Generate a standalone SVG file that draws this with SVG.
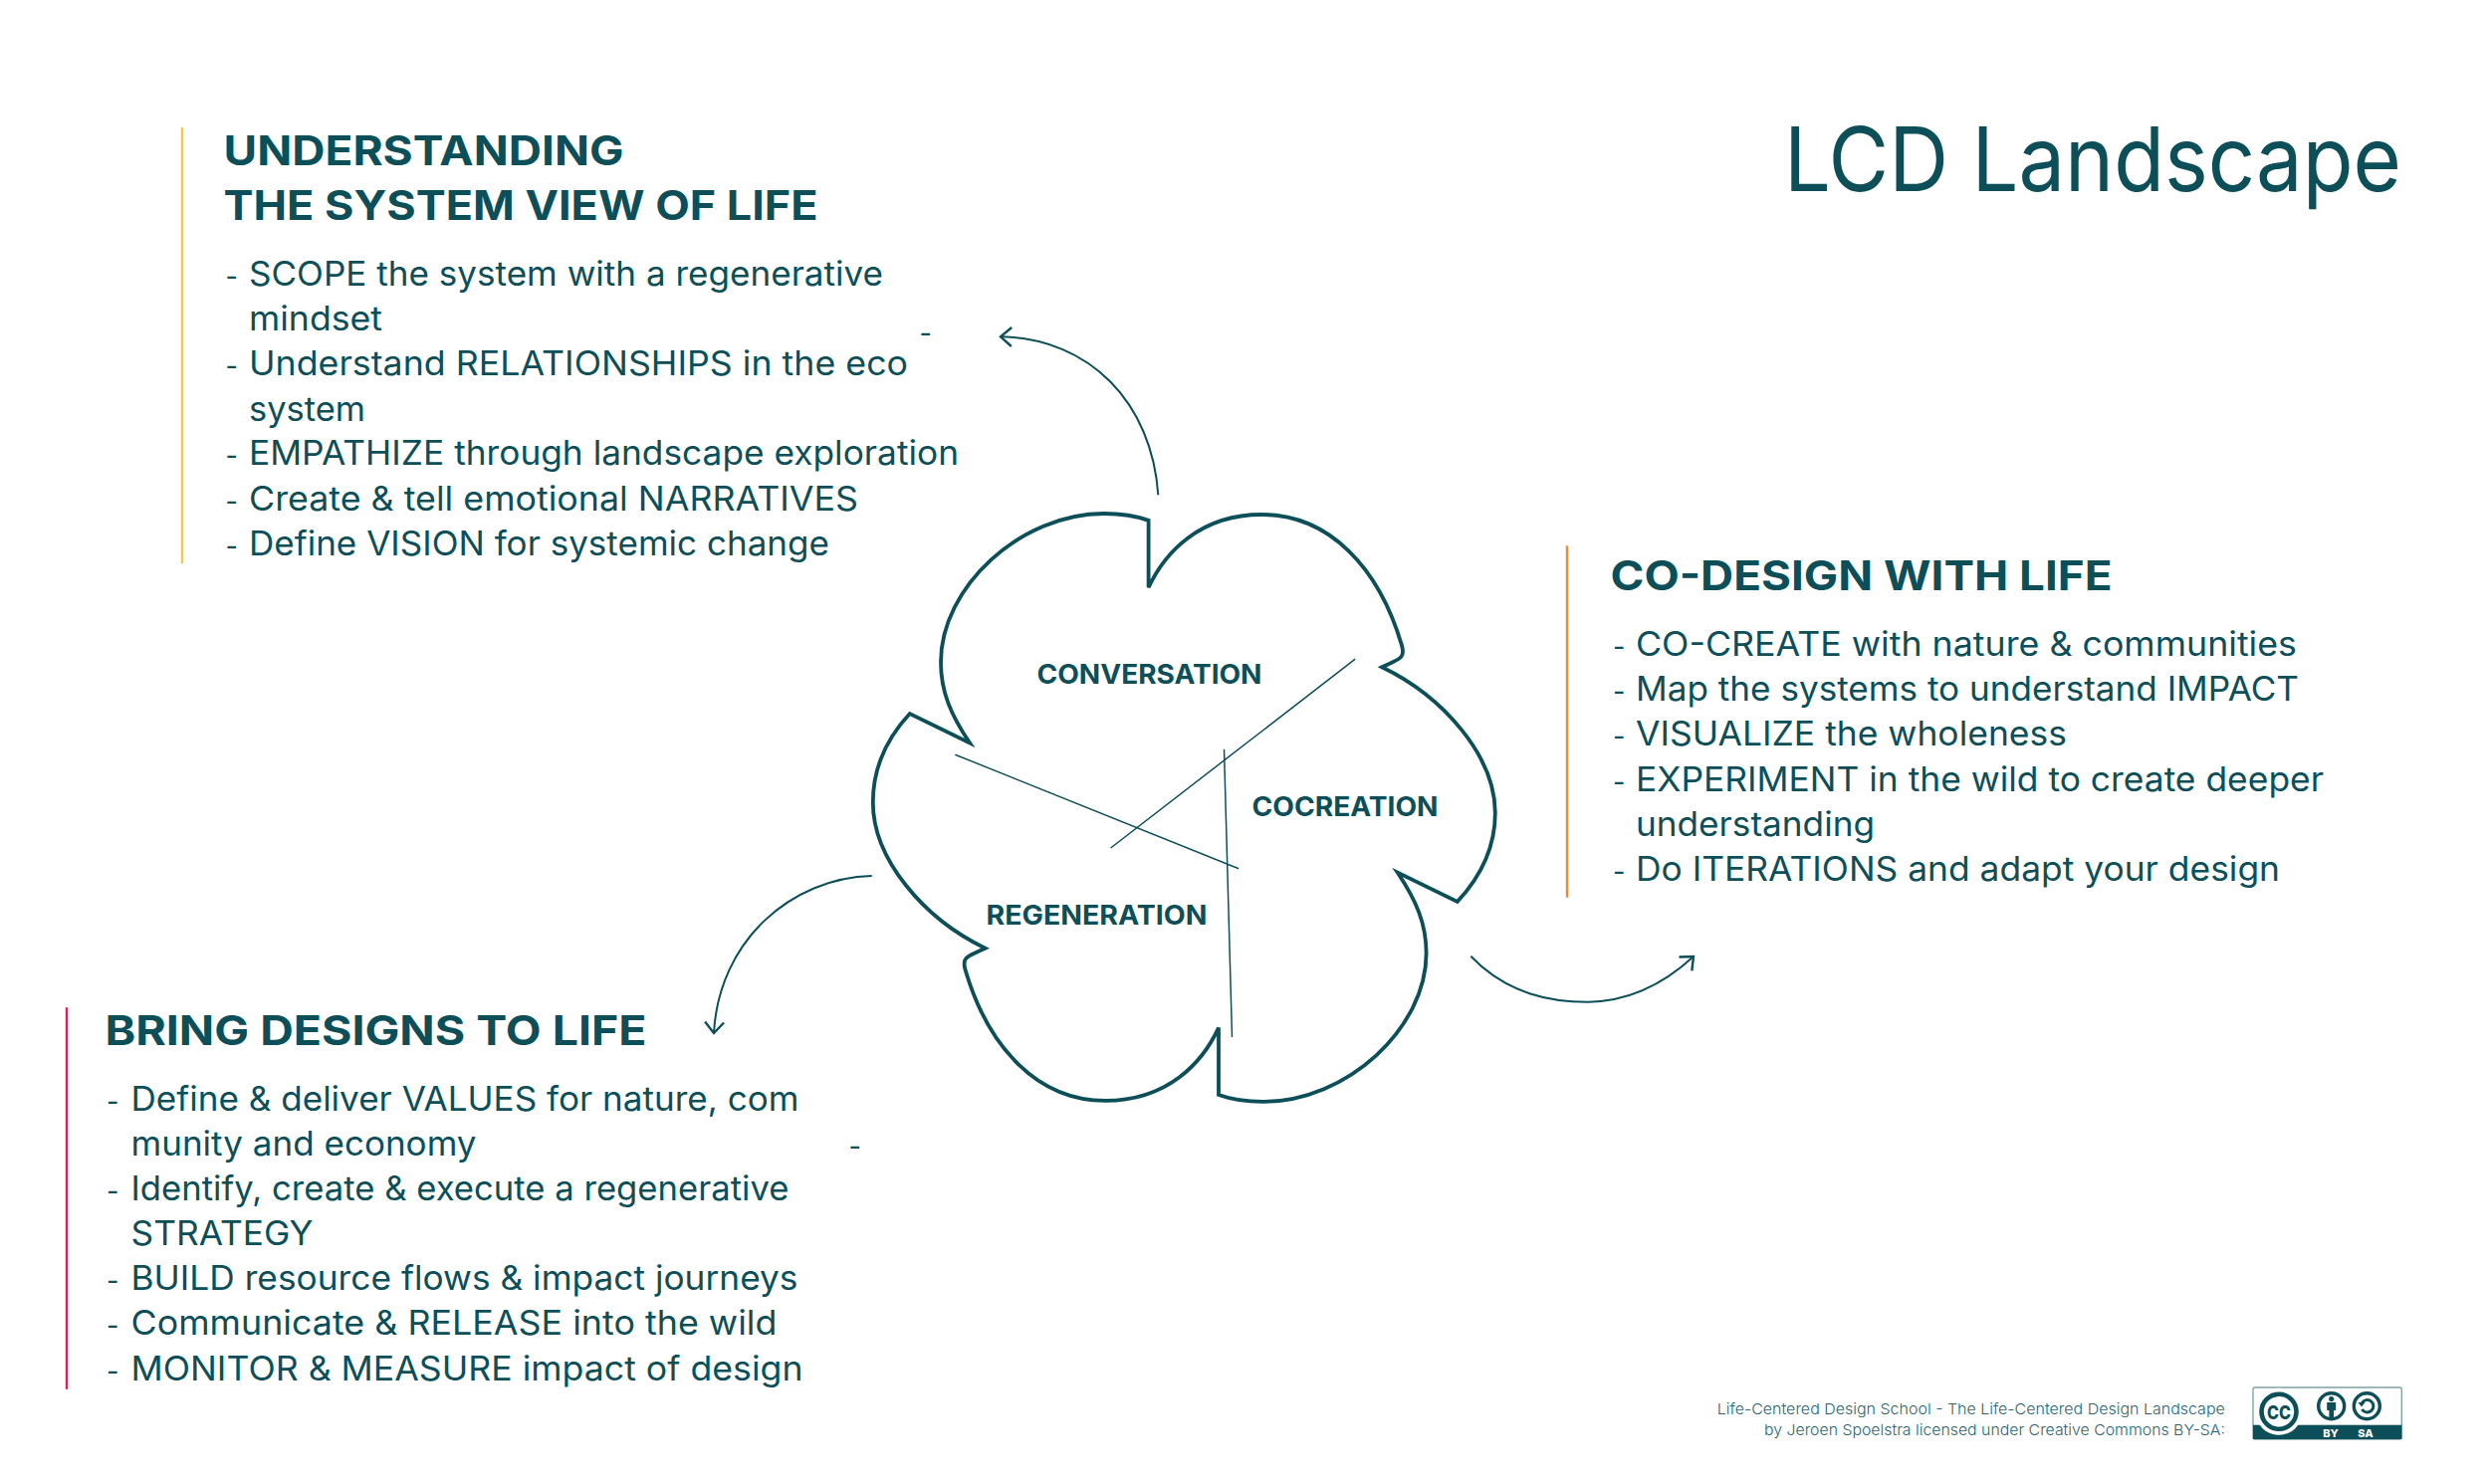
<svg xmlns="http://www.w3.org/2000/svg" width="2500" height="1491" viewBox="0 0 2500 1491">
<style>
text{font-family:"Inter","Noto Sans","Liberation Sans",sans-serif;fill:#0d4f59}
.b{font-size:33.5px;font-weight:400}
.d{font-size:27px;font-weight:400}
.h{font-size:41px;font-weight:700}
.l{font-size:27px;font-weight:700}
.t{font-size:90px;font-weight:400}
.f{font-size:15px;font-weight:300;fill:#2c6570}
.w{font-size:11px;font-weight:800;fill:#fff;text-anchor:middle}
.thin{fill:none;stroke:#0d4f59;stroke-width:1.5}
.arr{fill:none;stroke:#0d4f59;stroke-width:2;marker-end:url(#head)}
.bar{stroke-width:2.4;fill:none}
</style>
<defs>
<marker id="head" markerUnits="userSpaceOnUse" markerWidth="30" markerHeight="30" refX="15" refY="15" orient="auto" viewBox="0 0 30 30"><path d="M4 5.5L15 15L4 24.5" fill="none" stroke="#0d4f59" stroke-width="2.4"/></marker>
</defs>
<rect width="2500" height="1491" fill="#fff"/>
<g id="title"><text class="t" x="1792" y="191.5" textLength="620" lengthAdjust="spacingAndGlyphs">LCD Landscape</text></g>

<g id="node-understanding">
<path class="bar" d="M183 128V566" stroke="#f4c64a"/>
<text class="h" x="224.5" y="166" textLength="402" lengthAdjust="spacingAndGlyphs">UNDERSTANDING</text>
<text class="h" x="224.5" y="221.2" textLength="597" lengthAdjust="spacingAndGlyphs">THE SYSTEM VIEW OF LIFE</text>
<text class="d" x="226.5" y="287">-</text><text class="b" x="250" y="287" textLength="637" lengthAdjust="spacingAndGlyphs">SCOPE the system with a regenerative</text>
<text class="b" x="250" y="332.2" textLength="134" lengthAdjust="spacingAndGlyphs">mindset</text>
<text class="d" x="923.5" y="344">-</text>
<text class="d" x="226.5" y="377.2">-</text><text class="b" x="250" y="377.2" textLength="662" lengthAdjust="spacingAndGlyphs">Understand RELATIONSHIPS in the eco</text>
<text class="b" x="250" y="422.5" textLength="117" lengthAdjust="spacingAndGlyphs">system</text>
<text class="d" x="226.5" y="467.2">-</text><text class="b" x="250" y="467.2" textLength="713" lengthAdjust="spacingAndGlyphs">EMPATHIZE through landscape exploration</text>
<text class="d" x="226.5" y="512.5">-</text><text class="b" x="250" y="512.5" textLength="612" lengthAdjust="spacingAndGlyphs">Create &amp; tell emotional NARRATIVES</text>
<text class="d" x="226.5" y="557.7">-</text><text class="b" x="250" y="557.7" textLength="583" lengthAdjust="spacingAndGlyphs">Define VISION for systemic change</text>
</g>

<g id="node-codesign">
<path class="bar" d="M1574 548.3V901.7" stroke="#ee8a3c"/>
<text class="h" x="1617.5" y="593" textLength="504" lengthAdjust="spacingAndGlyphs">CO-DESIGN WITH LIFE</text>
<text class="d" x="1620" y="659">-</text><text class="b" x="1643" y="659" textLength="664" lengthAdjust="spacingAndGlyphs">CO-CREATE with nature &amp; communities</text>
<text class="d" x="1620" y="704.2">-</text><text class="b" x="1643" y="704.2" textLength="666" lengthAdjust="spacingAndGlyphs">Map the systems to understand IMPACT</text>
<text class="d" x="1620" y="749.4">-</text><text class="b" x="1643" y="749.4" textLength="433" lengthAdjust="spacingAndGlyphs">VISUALIZE the wholeness</text>
<text class="d" x="1620" y="794.6">-</text><text class="b" x="1643" y="794.6" textLength="691" lengthAdjust="spacingAndGlyphs">EXPERIMENT in the wild to create deeper</text>
<text class="b" x="1643" y="839.6" textLength="240" lengthAdjust="spacingAndGlyphs">understanding</text>
<text class="d" x="1620" y="884.6">-</text><text class="b" x="1643" y="884.6" textLength="647" lengthAdjust="spacingAndGlyphs">Do ITERATIONS and adapt your design</text>
</g>

<g id="node-bring">
<path class="bar" d="M67 1012.3V1395.7" stroke="#e8185f"/>
<text class="h" x="105.5" y="1050.2" textLength="544" lengthAdjust="spacingAndGlyphs">BRING DESIGNS TO LIFE</text>
<text class="d" x="107" y="1115.8">-</text><text class="b" x="131.5" y="1115.8" textLength="671" lengthAdjust="spacingAndGlyphs">Define &amp; deliver VALUES for nature, com</text>
<text class="b" x="131.5" y="1161" textLength="347" lengthAdjust="spacingAndGlyphs">munity and economy</text>
<text class="d" x="852.5" y="1161">-</text>
<text class="d" x="107" y="1206.2">-</text><text class="b" x="131.5" y="1206.2" textLength="661" lengthAdjust="spacingAndGlyphs">Identify, create &amp; execute a regenerative</text>
<text class="b" x="131.5" y="1251.2" textLength="183" lengthAdjust="spacingAndGlyphs">STRATEGY</text>
<text class="d" x="107" y="1296.2">-</text><text class="b" x="131.5" y="1296.2" textLength="670" lengthAdjust="spacingAndGlyphs">BUILD resource flows &amp; impact journeys</text>
<text class="d" x="107" y="1341.4">-</text><text class="b" x="131.5" y="1341.4" textLength="649" lengthAdjust="spacingAndGlyphs">Communicate &amp; RELEASE into the wild</text>
<text class="d" x="107" y="1386.7">-</text><text class="b" x="131.5" y="1386.7" textLength="675" lengthAdjust="spacingAndGlyphs">MONITOR &amp; MEASURE impact of design</text>
</g>

<g id="node-flower">
<path fill="none" stroke="#0d4f59" stroke-width="3.8" d="M1153.6 522.9L1153.6 590.3C1170 555 1205 517 1267.4 517C1335 517 1385 570 1408 648.4C1412 662 1405 662 1388 670.2C1450 700 1501.8 760 1501.8 816.7C1501.8 850 1488 880 1463.8 905.9L1403.6 876.5C1422.6 904.9 1432.6 927.9 1432.6 957.7C1432.6 1033 1352.6 1106.9 1268.6 1106.9C1252.6 1106.9 1237.6 1104.9 1224 1100L1224 1032.6C1207.6 1067.9 1172.6 1105.9 1110.2 1105.9C1042.6 1105.9 992.6 1052.9 969.6 974.5C965.6 960.9 972.6 960.9 989.6 952.7C927.6 922.9 876.8 862.9 876.8 806.2C876.8 772.9 889.6 742.9 913.8 717L974 746.4C955 718 945 695 945 665.2C945 590 1025 516 1109 516C1125 516 1140 518 1153.6 522.9Z"/>
<path class="thin" d="M959.4 758.2L1244.2 872.7M1115.6 852L1361.2 662.2M1229.5 752.7L1237.5 1041.9"/>
<text class="l" x="1041.5" y="686.5" textLength="226" lengthAdjust="spacingAndGlyphs">CONVERSATION</text>
<text class="l" x="1257.5" y="819.5" textLength="187" lengthAdjust="spacingAndGlyphs">COCREATION</text>
<text class="l" x="990.5" y="928.5" textLength="222" lengthAdjust="spacingAndGlyphs">REGENERATION</text>
</g>

<g id="connectors">
<path class="arr" d="M1163.3 497.3C1157 405 1095 340 1005 338.3"/>
<path class="arr" d="M875.7 880C795 882 722 945 717 1038"/>
<path class="arr" d="M1477.3 960.7C1515 1000 1560 1006.7 1595 1006.7C1640 1006 1675 985 1701 961"/>
</g>

<g id="footer">
<text class="f" x="1724.8" y="1420.7" textLength="510" lengthAdjust="spacingAndGlyphs">Life-Centered Design School - The Life-Centered Design Landscape</text>
<text class="f" x="1772" y="1441.7" textLength="463" lengthAdjust="spacingAndGlyphs">by Jeroen Spoelstra licensed under Creative Commons BY-SA:</text>
</g>

<g id="cc-badge">
<rect x="2263" y="1394" width="149.3" height="52" rx="2" fill="#fff" stroke="#7fa3a9" stroke-width="1.4"/>
<rect x="2263" y="1431.7" width="149.3" height="14.3" fill="#0d4f59"/>
<circle cx="2289" cy="1418.3" r="23.5" fill="#fff"/>
<circle cx="2289" cy="1418.3" r="17.5" fill="#fff" stroke="#0d4f59" stroke-width="4.6"/>
<text x="2289" y="1425.5" font-size="19" font-weight="800" text-anchor="middle" textLength="24" lengthAdjust="spacingAndGlyphs">CC</text>
<circle cx="2341.7" cy="1412.7" r="13" fill="#fff" stroke="#0d4f59" stroke-width="3.4"/>
<circle cx="2341.7" cy="1405.5" r="2.6" fill="#0d4f59"/>
<path d="M2337.2 1409h9v8h-2.2v7h-4.6v-7h-2.2z" fill="#0d4f59"/>
<circle cx="2377.3" cy="1412.7" r="13" fill="#fff" stroke="#0d4f59" stroke-width="3.4"/>
<path d="M2372.4 1409.5A6.2 6.2 0 1 1 2372.4 1416" fill="none" stroke="#0d4f59" stroke-width="3"/>
<path d="M2368.5 1409l7 0-3.5 4.6z" fill="#0d4f59"/>
<text class="w" x="2341" y="1443.5">BY</text>
<text class="w" x="2376" y="1443.5">SA</text>
</g>
</svg>
